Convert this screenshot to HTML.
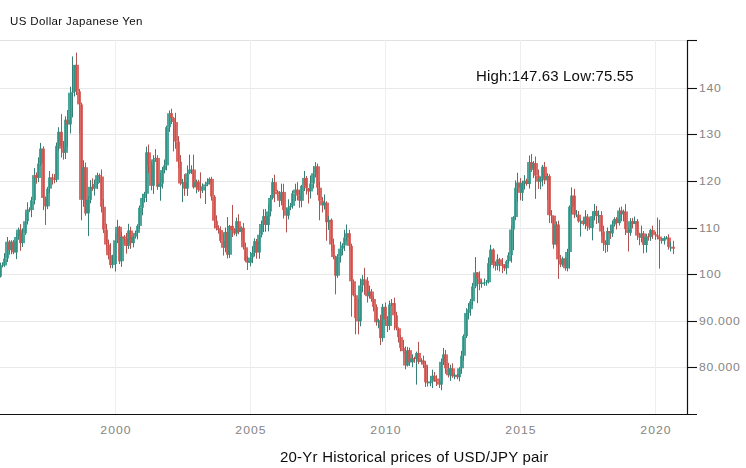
<!DOCTYPE html>
<html><head><meta charset="utf-8"><title>USD/JPY</title>
<style>
html,body{margin:0;padding:0;background:#fff;}
body{width:746px;height:468px;position:relative;overflow:hidden;font-family:"Liberation Sans",sans-serif;}
svg{position:absolute;left:0;top:0;}
.ttl{position:absolute;left:9.5px;top:14.0px;font-size:11.5px;color:#0d0d0d;line-height:14px;white-space:nowrap;letter-spacing:0.37px;will-change:transform;}
.hl{position:absolute;left:476.2px;top:66.6px;font-size:15px;color:#0d0d0d;line-height:18px;white-space:nowrap;letter-spacing:0.17px;will-change:transform;}
.cap{position:absolute;left:280.0px;top:447.4px;font-size:15px;color:#0d0d0d;line-height:20px;white-space:nowrap;letter-spacing:0.22px;will-change:transform;}
.yl{position:absolute;left:699.3px;font-size:10.6px;color:#858585;line-height:13px;white-space:nowrap;letter-spacing:0.6px;transform:scaleX(1.15);transform-origin:0 50%;}
.xl{position:absolute;top:424.0px;width:60px;text-align:center;font-size:10.6px;color:#858585;line-height:13px;letter-spacing:0.9px;transform:scaleX(1.15);transform-origin:50% 50%;}
</style></head><body>
<svg width="746" height="468" viewBox="0 0 746 468" shape-rendering="auto">
<line x1="0" x2="688" y1="88.5" y2="88.5" stroke="#e8e8e8" stroke-width="1"/>
<line x1="0" x2="688" y1="134.5" y2="134.5" stroke="#e8e8e8" stroke-width="1"/>
<line x1="0" x2="688" y1="181.5" y2="181.5" stroke="#e8e8e8" stroke-width="1"/>
<line x1="0" x2="688" y1="228.5" y2="228.5" stroke="#e8e8e8" stroke-width="1"/>
<line x1="0" x2="688" y1="274.5" y2="274.5" stroke="#e8e8e8" stroke-width="1"/>
<line x1="0" x2="688" y1="321.5" y2="321.5" stroke="#e8e8e8" stroke-width="1"/>
<line x1="0" x2="688" y1="367.5" y2="367.5" stroke="#e8e8e8" stroke-width="1"/>
<line x1="0" x2="688" y1="40.5" y2="40.5" stroke="#e2e2e2" stroke-width="1"/>
<line x1="115.5" x2="115.5" y1="40" y2="414" stroke="#eeeeee" stroke-width="1"/>
<line x1="250.5" x2="250.5" y1="40" y2="414" stroke="#eeeeee" stroke-width="1"/>
<line x1="385.5" x2="385.5" y1="40" y2="414" stroke="#eeeeee" stroke-width="1"/>
<line x1="520.5" x2="520.5" y1="40" y2="414" stroke="#eeeeee" stroke-width="1"/>
<line x1="655.5" x2="655.5" y1="40" y2="414" stroke="#eeeeee" stroke-width="1"/>
<line x1="0.5" x2="0.5" y1="262.66" y2="277.56" stroke="#357f75" stroke-width="1"/>
<rect x="-2.0" y="265.46" width="4" height="11.17" fill="#2f9789" fill-opacity="0.85"/>
<line x1="2.5" x2="2.5" y1="262.29" y2="267.54" stroke="#357f75" stroke-width="1"/>
<rect x="1.0" y="265.46" width="4" height="0.60" fill="#2f9789" fill-opacity="0.85"/>
<line x1="4.5" x2="4.5" y1="253.18" y2="267.07" stroke="#357f75" stroke-width="1"/>
<rect x="3.0" y="258.47" width="4" height="6.98" fill="#2f9789" fill-opacity="0.85"/>
<line x1="7.5" x2="7.5" y1="237.00" y2="262.07" stroke="#357f75" stroke-width="1"/>
<rect x="5.0" y="241.72" width="4" height="16.76" fill="#2f9789" fill-opacity="0.85"/>
<line x1="9.5" x2="9.5" y1="240.14" y2="254.63" stroke="#b0524f" stroke-width="1"/>
<rect x="7.0" y="241.72" width="4" height="8.38" fill="#d5514b" fill-opacity="0.85"/>
<line x1="11.5" x2="11.5" y1="240.27" y2="254.14" stroke="#357f75" stroke-width="1"/>
<rect x="10.0" y="241.72" width="4" height="8.38" fill="#2f9789" fill-opacity="0.85"/>
<line x1="13.5" x2="13.5" y1="240.06" y2="254.21" stroke="#b0524f" stroke-width="1"/>
<rect x="12.0" y="241.72" width="4" height="10.71" fill="#d5514b" fill-opacity="0.85"/>
<line x1="16.5" x2="16.5" y1="233.04" y2="259.12" stroke="#357f75" stroke-width="1"/>
<rect x="14.0" y="237.06" width="4" height="15.36" fill="#2f9789" fill-opacity="0.85"/>
<line x1="18.5" x2="18.5" y1="227.55" y2="239.79" stroke="#357f75" stroke-width="1"/>
<rect x="16.0" y="229.61" width="4" height="7.45" fill="#2f9789" fill-opacity="0.85"/>
<line x1="20.5" x2="20.5" y1="224.16" y2="250.72" stroke="#b0524f" stroke-width="1"/>
<rect x="19.0" y="229.61" width="4" height="13.50" fill="#d5514b" fill-opacity="0.85"/>
<line x1="22.5" x2="22.5" y1="228.26" y2="246.98" stroke="#357f75" stroke-width="1"/>
<rect x="21.0" y="233.34" width="4" height="9.78" fill="#2f9789" fill-opacity="0.85"/>
<line x1="25.5" x2="25.5" y1="213.31" y2="234.90" stroke="#357f75" stroke-width="1"/>
<rect x="23.0" y="221.23" width="4" height="12.10" fill="#2f9789" fill-opacity="0.85"/>
<line x1="27.5" x2="27.5" y1="202.31" y2="224.53" stroke="#357f75" stroke-width="1"/>
<rect x="25.0" y="209.60" width="4" height="11.64" fill="#2f9789" fill-opacity="0.85"/>
<line x1="29.5" x2="29.5" y1="207.31" y2="212.16" stroke="#b0524f" stroke-width="1"/>
<rect x="28.0" y="209.60" width="4" height="0.60" fill="#d5514b" fill-opacity="0.85"/>
<line x1="31.5" x2="31.5" y1="196.79" y2="217.17" stroke="#357f75" stroke-width="1"/>
<rect x="30.0" y="200.29" width="4" height="9.78" fill="#2f9789" fill-opacity="0.85"/>
<line x1="34.5" x2="34.5" y1="168.17" y2="204.47" stroke="#357f75" stroke-width="1"/>
<rect x="32.0" y="175.15" width="4" height="25.14" fill="#2f9789" fill-opacity="0.85"/>
<line x1="36.5" x2="36.5" y1="172.45" y2="183.63" stroke="#b0524f" stroke-width="1"/>
<rect x="34.0" y="175.15" width="4" height="2.79" fill="#d5514b" fill-opacity="0.85"/>
<line x1="38.5" x2="38.5" y1="157.27" y2="182.16" stroke="#357f75" stroke-width="1"/>
<rect x="37.0" y="163.51" width="4" height="14.43" fill="#2f9789" fill-opacity="0.85"/>
<line x1="40.5" x2="40.5" y1="142.92" y2="165.42" stroke="#357f75" stroke-width="1"/>
<rect x="39.0" y="148.62" width="4" height="14.90" fill="#2f9789" fill-opacity="0.85"/>
<line x1="43.5" x2="43.5" y1="146.29" y2="210.06" stroke="#b0524f" stroke-width="1"/>
<rect x="41.0" y="148.62" width="4" height="49.34" fill="#d5514b" fill-opacity="0.85"/>
<line x1="45.5" x2="45.5" y1="196.56" y2="224.96" stroke="#b0524f" stroke-width="1"/>
<rect x="43.0" y="197.96" width="4" height="8.38" fill="#d5514b" fill-opacity="0.85"/>
<line x1="47.5" x2="47.5" y1="186.89" y2="209.16" stroke="#357f75" stroke-width="1"/>
<rect x="46.0" y="188.65" width="4" height="17.69" fill="#2f9789" fill-opacity="0.85"/>
<line x1="49.5" x2="49.5" y1="171.08" y2="193.17" stroke="#357f75" stroke-width="1"/>
<rect x="48.0" y="177.48" width="4" height="11.17" fill="#2f9789" fill-opacity="0.85"/>
<line x1="52.5" x2="52.5" y1="173.79" y2="184.57" stroke="#b0524f" stroke-width="1"/>
<rect x="50.0" y="177.48" width="4" height="1.40" fill="#d5514b" fill-opacity="0.85"/>
<line x1="54.5" x2="54.5" y1="174.17" y2="183.37" stroke="#b0524f" stroke-width="1"/>
<rect x="52.0" y="178.87" width="4" height="0.93" fill="#d5514b" fill-opacity="0.85"/>
<line x1="56.5" x2="56.5" y1="142.56" y2="182.13" stroke="#357f75" stroke-width="1"/>
<rect x="55.0" y="145.82" width="4" height="33.98" fill="#2f9789" fill-opacity="0.85"/>
<line x1="58.5" x2="58.5" y1="127.20" y2="150.48" stroke="#357f75" stroke-width="1"/>
<rect x="57.0" y="131.86" width="4" height="13.97" fill="#2f9789" fill-opacity="0.85"/>
<line x1="61.5" x2="61.5" y1="114.17" y2="157.46" stroke="#b0524f" stroke-width="1"/>
<rect x="59.0" y="131.86" width="4" height="16.76" fill="#d5514b" fill-opacity="0.85"/>
<line x1="63.5" x2="63.5" y1="141.00" y2="159.68" stroke="#b0524f" stroke-width="1"/>
<rect x="61.0" y="148.62" width="4" height="4.19" fill="#d5514b" fill-opacity="0.85"/>
<line x1="65.5" x2="65.5" y1="116.27" y2="158.99" stroke="#357f75" stroke-width="1"/>
<rect x="64.0" y="119.75" width="4" height="33.05" fill="#2f9789" fill-opacity="0.85"/>
<line x1="67.5" x2="67.5" y1="109.98" y2="146.75" stroke="#b0524f" stroke-width="1"/>
<rect x="66.0" y="119.75" width="4" height="4.66" fill="#d5514b" fill-opacity="0.85"/>
<line x1="70.5" x2="70.5" y1="86.72" y2="133.44" stroke="#357f75" stroke-width="1"/>
<rect x="68.0" y="92.75" width="4" height="31.65" fill="#2f9789" fill-opacity="0.85"/>
<line x1="72.5" x2="72.5" y1="56.45" y2="117.43" stroke="#357f75" stroke-width="1"/>
<rect x="70.0" y="91.82" width="4" height="0.93" fill="#2f9789" fill-opacity="0.85"/>
<line x1="74.5" x2="74.5" y1="65.29" y2="96.48" stroke="#357f75" stroke-width="1"/>
<rect x="73.0" y="64.82" width="4" height="27.00" fill="#2f9789" fill-opacity="0.85"/>
<line x1="76.5" x2="76.5" y1="52.58" y2="95.08" stroke="#b0524f" stroke-width="1"/>
<rect x="75.0" y="64.82" width="4" height="26.53" fill="#d5514b" fill-opacity="0.85"/>
<line x1="79.5" x2="79.5" y1="89.03" y2="133.25" stroke="#b0524f" stroke-width="1"/>
<rect x="77.0" y="91.36" width="4" height="13.03" fill="#d5514b" fill-opacity="0.85"/>
<line x1="81.5" x2="81.5" y1="102.53" y2="220.30" stroke="#b0524f" stroke-width="1"/>
<rect x="79.0" y="104.39" width="4" height="95.43" fill="#d5514b" fill-opacity="0.85"/>
<line x1="83.5" x2="83.5" y1="160.25" y2="206.80" stroke="#357f75" stroke-width="1"/>
<rect x="82.0" y="167.24" width="4" height="32.58" fill="#2f9789" fill-opacity="0.85"/>
<line x1="85.5" x2="85.5" y1="162.58" y2="215.65" stroke="#b0524f" stroke-width="1"/>
<rect x="84.0" y="167.24" width="4" height="46.08" fill="#d5514b" fill-opacity="0.85"/>
<line x1="88.5" x2="88.5" y1="196.10" y2="236.13" stroke="#357f75" stroke-width="1"/>
<rect x="86.0" y="199.82" width="4" height="13.50" fill="#2f9789" fill-opacity="0.85"/>
<line x1="90.5" x2="90.5" y1="180.13" y2="203.25" stroke="#357f75" stroke-width="1"/>
<rect x="88.0" y="186.79" width="4" height="13.03" fill="#2f9789" fill-opacity="0.85"/>
<line x1="92.5" x2="92.5" y1="178.30" y2="190.84" stroke="#b0524f" stroke-width="1"/>
<rect x="91.0" y="186.79" width="4" height="1.86" fill="#d5514b" fill-opacity="0.85"/>
<line x1="94.5" x2="94.5" y1="179.59" y2="195.54" stroke="#357f75" stroke-width="1"/>
<rect x="93.0" y="183.99" width="4" height="4.66" fill="#2f9789" fill-opacity="0.85"/>
<line x1="97.5" x2="97.5" y1="172.66" y2="188.99" stroke="#357f75" stroke-width="1"/>
<rect x="95.0" y="175.15" width="4" height="8.84" fill="#2f9789" fill-opacity="0.85"/>
<line x1="99.5" x2="99.5" y1="173.50" y2="182.88" stroke="#b0524f" stroke-width="1"/>
<rect x="97.0" y="175.15" width="4" height="1.40" fill="#d5514b" fill-opacity="0.85"/>
<line x1="101.5" x2="101.5" y1="169.51" y2="212.41" stroke="#b0524f" stroke-width="1"/>
<rect x="100.0" y="176.55" width="4" height="30.26" fill="#d5514b" fill-opacity="0.85"/>
<line x1="103.5" x2="103.5" y1="199.36" y2="233.10" stroke="#b0524f" stroke-width="1"/>
<rect x="102.0" y="206.80" width="4" height="22.81" fill="#d5514b" fill-opacity="0.85"/>
<line x1="106.5" x2="106.5" y1="223.71" y2="249.74" stroke="#b0524f" stroke-width="1"/>
<rect x="104.0" y="229.61" width="4" height="14.90" fill="#d5514b" fill-opacity="0.85"/>
<line x1="108.5" x2="108.5" y1="239.53" y2="259.39" stroke="#b0524f" stroke-width="1"/>
<rect x="106.0" y="244.51" width="4" height="10.71" fill="#d5514b" fill-opacity="0.85"/>
<line x1="110.5" x2="110.5" y1="243.11" y2="268.25" stroke="#b0524f" stroke-width="1"/>
<rect x="109.0" y="255.21" width="4" height="9.78" fill="#d5514b" fill-opacity="0.85"/>
<line x1="112.5" x2="112.5" y1="254.75" y2="268.25" stroke="#357f75" stroke-width="1"/>
<rect x="111.0" y="264.06" width="4" height="0.93" fill="#2f9789" fill-opacity="0.85"/>
<line x1="115.5" x2="115.5" y1="233.58" y2="271.49" stroke="#357f75" stroke-width="1"/>
<rect x="113.0" y="240.32" width="4" height="23.74" fill="#2f9789" fill-opacity="0.85"/>
<line x1="117.5" x2="117.5" y1="219.84" y2="243.11" stroke="#357f75" stroke-width="1"/>
<rect x="115.0" y="226.82" width="4" height="13.50" fill="#2f9789" fill-opacity="0.85"/>
<line x1="119.5" x2="119.5" y1="225.89" y2="264.06" stroke="#b0524f" stroke-width="1"/>
<rect x="118.0" y="226.82" width="4" height="34.45" fill="#d5514b" fill-opacity="0.85"/>
<line x1="121.5" x2="121.5" y1="232.24" y2="266.89" stroke="#357f75" stroke-width="1"/>
<rect x="120.0" y="236.59" width="4" height="24.67" fill="#2f9789" fill-opacity="0.85"/>
<line x1="124.5" x2="124.5" y1="234.98" y2="244.32" stroke="#b0524f" stroke-width="1"/>
<rect x="122.0" y="236.59" width="4" height="1.86" fill="#d5514b" fill-opacity="0.85"/>
<line x1="126.5" x2="126.5" y1="232.97" y2="253.68" stroke="#b0524f" stroke-width="1"/>
<rect x="124.0" y="238.46" width="4" height="7.45" fill="#d5514b" fill-opacity="0.85"/>
<line x1="128.5" x2="128.5" y1="223.80" y2="249.04" stroke="#357f75" stroke-width="1"/>
<rect x="127.0" y="230.54" width="4" height="15.36" fill="#2f9789" fill-opacity="0.85"/>
<line x1="130.5" x2="130.5" y1="226.73" y2="248.83" stroke="#b0524f" stroke-width="1"/>
<rect x="129.0" y="230.54" width="4" height="12.57" fill="#d5514b" fill-opacity="0.85"/>
<line x1="133.5" x2="133.5" y1="235.24" y2="247.39" stroke="#357f75" stroke-width="1"/>
<rect x="131.0" y="236.59" width="4" height="6.52" fill="#2f9789" fill-opacity="0.85"/>
<line x1="135.5" x2="135.5" y1="230.53" y2="238.59" stroke="#357f75" stroke-width="1"/>
<rect x="133.0" y="232.87" width="4" height="3.72" fill="#2f9789" fill-opacity="0.85"/>
<line x1="137.5" x2="137.5" y1="224.25" y2="239.32" stroke="#357f75" stroke-width="1"/>
<rect x="136.0" y="225.89" width="4" height="6.98" fill="#2f9789" fill-opacity="0.85"/>
<line x1="139.5" x2="139.5" y1="205.55" y2="228.90" stroke="#357f75" stroke-width="1"/>
<rect x="138.0" y="207.73" width="4" height="18.15" fill="#2f9789" fill-opacity="0.85"/>
<line x1="142.5" x2="142.5" y1="193.86" y2="215.27" stroke="#357f75" stroke-width="1"/>
<rect x="140.0" y="197.96" width="4" height="9.78" fill="#2f9789" fill-opacity="0.85"/>
<line x1="144.5" x2="144.5" y1="191.88" y2="202.51" stroke="#357f75" stroke-width="1"/>
<rect x="142.0" y="193.77" width="4" height="4.19" fill="#2f9789" fill-opacity="0.85"/>
<line x1="146.5" x2="146.5" y1="146.67" y2="202.03" stroke="#357f75" stroke-width="1"/>
<rect x="145.0" y="152.34" width="4" height="41.43" fill="#2f9789" fill-opacity="0.85"/>
<line x1="148.5" x2="148.5" y1="144.58" y2="173.02" stroke="#b0524f" stroke-width="1"/>
<rect x="147.0" y="152.34" width="4" height="12.57" fill="#d5514b" fill-opacity="0.85"/>
<line x1="151.5" x2="151.5" y1="161.41" y2="190.39" stroke="#b0524f" stroke-width="1"/>
<rect x="149.0" y="164.91" width="4" height="20.95" fill="#d5514b" fill-opacity="0.85"/>
<line x1="153.5" x2="153.5" y1="155.18" y2="194.02" stroke="#357f75" stroke-width="1"/>
<rect x="151.0" y="159.32" width="4" height="26.53" fill="#2f9789" fill-opacity="0.85"/>
<line x1="155.5" x2="155.5" y1="149.17" y2="161.88" stroke="#357f75" stroke-width="1"/>
<rect x="154.0" y="157.93" width="4" height="1.40" fill="#2f9789" fill-opacity="0.85"/>
<line x1="157.5" x2="157.5" y1="155.18" y2="189.96" stroke="#b0524f" stroke-width="1"/>
<rect x="156.0" y="157.93" width="4" height="28.86" fill="#d5514b" fill-opacity="0.85"/>
<line x1="160.5" x2="160.5" y1="172.82" y2="200.75" stroke="#357f75" stroke-width="1"/>
<rect x="158.0" y="183.53" width="4" height="3.26" fill="#2f9789" fill-opacity="0.85"/>
<line x1="162.5" x2="162.5" y1="166.91" y2="188.54" stroke="#357f75" stroke-width="1"/>
<rect x="160.0" y="170.03" width="4" height="13.50" fill="#2f9789" fill-opacity="0.85"/>
<line x1="164.5" x2="164.5" y1="159.53" y2="173.40" stroke="#357f75" stroke-width="1"/>
<rect x="163.0" y="165.37" width="4" height="4.65" fill="#2f9789" fill-opacity="0.85"/>
<line x1="166.5" x2="166.5" y1="125.70" y2="170.23" stroke="#357f75" stroke-width="1"/>
<rect x="165.0" y="127.20" width="4" height="38.17" fill="#2f9789" fill-opacity="0.85"/>
<line x1="169.5" x2="169.5" y1="110.44" y2="131.86" stroke="#357f75" stroke-width="1"/>
<rect x="167.0" y="113.24" width="4" height="13.97" fill="#2f9789" fill-opacity="0.85"/>
<line x1="171.5" x2="171.5" y1="108.68" y2="124.08" stroke="#b0524f" stroke-width="1"/>
<rect x="169.0" y="113.24" width="4" height="4.66" fill="#d5514b" fill-opacity="0.85"/>
<line x1="173.5" x2="173.5" y1="116.96" y2="151.41" stroke="#b0524f" stroke-width="1"/>
<rect x="172.0" y="117.89" width="4" height="4.19" fill="#d5514b" fill-opacity="0.85"/>
<line x1="175.5" x2="175.5" y1="112.83" y2="148.75" stroke="#b0524f" stroke-width="1"/>
<rect x="174.0" y="122.08" width="4" height="19.55" fill="#d5514b" fill-opacity="0.85"/>
<line x1="178.5" x2="178.5" y1="136.13" y2="167.96" stroke="#b0524f" stroke-width="1"/>
<rect x="176.0" y="141.63" width="4" height="20.02" fill="#d5514b" fill-opacity="0.85"/>
<line x1="180.5" x2="180.5" y1="155.10" y2="185.33" stroke="#b0524f" stroke-width="1"/>
<rect x="178.0" y="161.65" width="4" height="21.88" fill="#d5514b" fill-opacity="0.85"/>
<line x1="182.5" x2="182.5" y1="178.87" y2="202.15" stroke="#357f75" stroke-width="1"/>
<rect x="181.0" y="182.13" width="4" height="1.40" fill="#2f9789" fill-opacity="0.85"/>
<line x1="184.5" x2="184.5" y1="174.17" y2="195.73" stroke="#b0524f" stroke-width="1"/>
<rect x="183.0" y="182.13" width="4" height="6.52" fill="#d5514b" fill-opacity="0.85"/>
<line x1="187.5" x2="187.5" y1="165.39" y2="195.97" stroke="#357f75" stroke-width="1"/>
<rect x="185.0" y="173.29" width="4" height="15.36" fill="#2f9789" fill-opacity="0.85"/>
<line x1="189.5" x2="189.5" y1="154.67" y2="174.22" stroke="#357f75" stroke-width="1"/>
<rect x="187.0" y="169.56" width="4" height="3.72" fill="#2f9789" fill-opacity="0.85"/>
<line x1="191.5" x2="191.5" y1="165.24" y2="173.93" stroke="#357f75" stroke-width="1"/>
<rect x="190.0" y="169.56" width="4" height="0.60" fill="#2f9789" fill-opacity="0.85"/>
<line x1="193.5" x2="193.5" y1="154.67" y2="188.65" stroke="#b0524f" stroke-width="1"/>
<rect x="192.0" y="169.56" width="4" height="17.69" fill="#d5514b" fill-opacity="0.85"/>
<line x1="196.5" x2="196.5" y1="179.56" y2="193.26" stroke="#357f75" stroke-width="1"/>
<rect x="194.0" y="181.67" width="4" height="5.59" fill="#2f9789" fill-opacity="0.85"/>
<line x1="198.5" x2="198.5" y1="179.87" y2="191.88" stroke="#b0524f" stroke-width="1"/>
<rect x="196.0" y="181.67" width="4" height="8.38" fill="#d5514b" fill-opacity="0.85"/>
<line x1="200.5" x2="200.5" y1="172.36" y2="198.42" stroke="#b0524f" stroke-width="1"/>
<rect x="199.0" y="190.04" width="4" height="0.60" fill="#d5514b" fill-opacity="0.85"/>
<line x1="202.5" x2="202.5" y1="183.47" y2="193.02" stroke="#357f75" stroke-width="1"/>
<rect x="201.0" y="186.32" width="4" height="4.19" fill="#2f9789" fill-opacity="0.85"/>
<line x1="205.5" x2="205.5" y1="181.67" y2="204.01" stroke="#357f75" stroke-width="1"/>
<rect x="203.0" y="184.46" width="4" height="1.86" fill="#2f9789" fill-opacity="0.85"/>
<line x1="207.5" x2="207.5" y1="178.29" y2="186.18" stroke="#357f75" stroke-width="1"/>
<rect x="205.0" y="182.13" width="4" height="2.33" fill="#2f9789" fill-opacity="0.85"/>
<line x1="209.5" x2="209.5" y1="177.52" y2="184.60" stroke="#357f75" stroke-width="1"/>
<rect x="208.0" y="178.87" width="4" height="3.26" fill="#2f9789" fill-opacity="0.85"/>
<line x1="211.5" x2="211.5" y1="176.78" y2="200.60" stroke="#b0524f" stroke-width="1"/>
<rect x="210.0" y="178.87" width="4" height="17.69" fill="#d5514b" fill-opacity="0.85"/>
<line x1="214.5" x2="214.5" y1="195.07" y2="228.34" stroke="#b0524f" stroke-width="1"/>
<rect x="212.0" y="196.56" width="4" height="24.21" fill="#d5514b" fill-opacity="0.85"/>
<line x1="216.5" x2="216.5" y1="215.31" y2="230.48" stroke="#b0524f" stroke-width="1"/>
<rect x="214.0" y="220.77" width="4" height="7.45" fill="#d5514b" fill-opacity="0.85"/>
<line x1="218.5" x2="218.5" y1="225.28" y2="233.65" stroke="#b0524f" stroke-width="1"/>
<rect x="217.0" y="228.22" width="4" height="1.86" fill="#d5514b" fill-opacity="0.85"/>
<line x1="220.5" x2="220.5" y1="226.40" y2="242.83" stroke="#b0524f" stroke-width="1"/>
<rect x="219.0" y="230.08" width="4" height="10.71" fill="#d5514b" fill-opacity="0.85"/>
<line x1="223.5" x2="223.5" y1="233.99" y2="255.51" stroke="#b0524f" stroke-width="1"/>
<rect x="221.0" y="240.78" width="4" height="6.98" fill="#d5514b" fill-opacity="0.85"/>
<line x1="225.5" x2="225.5" y1="227.60" y2="252.23" stroke="#357f75" stroke-width="1"/>
<rect x="223.0" y="231.94" width="4" height="15.83" fill="#2f9789" fill-opacity="0.85"/>
<line x1="227.5" x2="227.5" y1="217.04" y2="258.47" stroke="#b0524f" stroke-width="1"/>
<rect x="226.0" y="231.94" width="4" height="22.81" fill="#d5514b" fill-opacity="0.85"/>
<line x1="229.5" x2="229.5" y1="224.96" y2="258.01" stroke="#357f75" stroke-width="1"/>
<rect x="228.0" y="225.89" width="4" height="28.86" fill="#2f9789" fill-opacity="0.85"/>
<line x1="232.5" x2="232.5" y1="204.94" y2="237.06" stroke="#b0524f" stroke-width="1"/>
<rect x="230.0" y="225.89" width="4" height="4.19" fill="#d5514b" fill-opacity="0.85"/>
<line x1="234.5" x2="234.5" y1="228.28" y2="235.25" stroke="#b0524f" stroke-width="1"/>
<rect x="232.0" y="230.08" width="4" height="3.26" fill="#d5514b" fill-opacity="0.85"/>
<line x1="236.5" x2="236.5" y1="217.64" y2="236.39" stroke="#357f75" stroke-width="1"/>
<rect x="235.0" y="221.23" width="4" height="12.10" fill="#2f9789" fill-opacity="0.85"/>
<line x1="238.5" x2="238.5" y1="214.31" y2="234.29" stroke="#b0524f" stroke-width="1"/>
<rect x="237.0" y="221.23" width="4" height="10.71" fill="#d5514b" fill-opacity="0.85"/>
<line x1="241.5" x2="241.5" y1="226.36" y2="239.60" stroke="#357f75" stroke-width="1"/>
<rect x="239.0" y="227.75" width="4" height="4.19" fill="#2f9789" fill-opacity="0.85"/>
<line x1="243.5" x2="243.5" y1="222.95" y2="249.52" stroke="#b0524f" stroke-width="1"/>
<rect x="241.0" y="227.75" width="4" height="19.55" fill="#d5514b" fill-opacity="0.85"/>
<line x1="245.5" x2="245.5" y1="242.59" y2="262.16" stroke="#b0524f" stroke-width="1"/>
<rect x="244.0" y="247.30" width="4" height="13.50" fill="#d5514b" fill-opacity="0.85"/>
<line x1="247.5" x2="247.5" y1="256.31" y2="270.00" stroke="#b0524f" stroke-width="1"/>
<rect x="246.0" y="260.80" width="4" height="1.86" fill="#d5514b" fill-opacity="0.85"/>
<line x1="250.5" x2="250.5" y1="251.96" y2="266.39" stroke="#357f75" stroke-width="1"/>
<rect x="248.0" y="257.54" width="4" height="5.12" fill="#2f9789" fill-opacity="0.85"/>
<line x1="252.5" x2="252.5" y1="246.17" y2="263.19" stroke="#357f75" stroke-width="1"/>
<rect x="250.0" y="252.89" width="4" height="4.66" fill="#2f9789" fill-opacity="0.85"/>
<line x1="254.5" x2="254.5" y1="238.33" y2="256.50" stroke="#357f75" stroke-width="1"/>
<rect x="253.0" y="241.25" width="4" height="11.64" fill="#2f9789" fill-opacity="0.85"/>
<line x1="256.5" x2="256.5" y1="238.95" y2="258.70" stroke="#b0524f" stroke-width="1"/>
<rect x="255.0" y="241.25" width="4" height="11.17" fill="#d5514b" fill-opacity="0.85"/>
<line x1="259.5" x2="259.5" y1="229.97" y2="258.83" stroke="#357f75" stroke-width="1"/>
<rect x="257.0" y="234.73" width="4" height="17.69" fill="#2f9789" fill-opacity="0.85"/>
<line x1="261.5" x2="261.5" y1="220.54" y2="237.49" stroke="#357f75" stroke-width="1"/>
<rect x="259.0" y="224.03" width="4" height="10.71" fill="#2f9789" fill-opacity="0.85"/>
<line x1="263.5" x2="263.5" y1="209.25" y2="232.09" stroke="#357f75" stroke-width="1"/>
<rect x="262.0" y="216.11" width="4" height="7.91" fill="#2f9789" fill-opacity="0.85"/>
<line x1="265.5" x2="265.5" y1="208.96" y2="231.79" stroke="#b0524f" stroke-width="1"/>
<rect x="264.0" y="216.11" width="4" height="8.84" fill="#d5514b" fill-opacity="0.85"/>
<line x1="268.5" x2="268.5" y1="204.48" y2="231.38" stroke="#357f75" stroke-width="1"/>
<rect x="266.0" y="211.46" width="4" height="13.50" fill="#2f9789" fill-opacity="0.85"/>
<line x1="270.5" x2="270.5" y1="195.04" y2="216.46" stroke="#357f75" stroke-width="1"/>
<rect x="268.0" y="197.96" width="4" height="13.50" fill="#2f9789" fill-opacity="0.85"/>
<line x1="272.5" x2="272.5" y1="178.18" y2="199.51" stroke="#357f75" stroke-width="1"/>
<rect x="271.0" y="182.13" width="4" height="15.83" fill="#2f9789" fill-opacity="0.85"/>
<line x1="274.5" x2="274.5" y1="174.68" y2="202.15" stroke="#b0524f" stroke-width="1"/>
<rect x="273.0" y="182.13" width="4" height="9.31" fill="#d5514b" fill-opacity="0.85"/>
<line x1="277.5" x2="277.5" y1="189.92" y2="197.57" stroke="#b0524f" stroke-width="1"/>
<rect x="275.0" y="191.44" width="4" height="2.79" fill="#d5514b" fill-opacity="0.85"/>
<line x1="279.5" x2="279.5" y1="191.06" y2="207.05" stroke="#b0524f" stroke-width="1"/>
<rect x="277.0" y="194.23" width="4" height="6.52" fill="#d5514b" fill-opacity="0.85"/>
<line x1="281.5" x2="281.5" y1="183.67" y2="205.30" stroke="#357f75" stroke-width="1"/>
<rect x="280.0" y="191.91" width="4" height="8.84" fill="#2f9789" fill-opacity="0.85"/>
<line x1="283.5" x2="283.5" y1="183.81" y2="218.52" stroke="#b0524f" stroke-width="1"/>
<rect x="282.0" y="191.91" width="4" height="18.15" fill="#d5514b" fill-opacity="0.85"/>
<line x1="286.5" x2="286.5" y1="208.20" y2="232.41" stroke="#b0524f" stroke-width="1"/>
<rect x="284.0" y="210.06" width="4" height="5.59" fill="#d5514b" fill-opacity="0.85"/>
<line x1="288.5" x2="288.5" y1="199.28" y2="219.49" stroke="#357f75" stroke-width="1"/>
<rect x="286.0" y="207.27" width="4" height="8.38" fill="#2f9789" fill-opacity="0.85"/>
<line x1="290.5" x2="290.5" y1="203.04" y2="210.15" stroke="#357f75" stroke-width="1"/>
<rect x="289.0" y="205.87" width="4" height="1.40" fill="#2f9789" fill-opacity="0.85"/>
<line x1="292.5" x2="292.5" y1="190.57" y2="208.66" stroke="#357f75" stroke-width="1"/>
<rect x="291.0" y="193.30" width="4" height="12.57" fill="#2f9789" fill-opacity="0.85"/>
<line x1="295.5" x2="295.5" y1="183.73" y2="201.16" stroke="#357f75" stroke-width="1"/>
<rect x="293.0" y="189.58" width="4" height="3.72" fill="#2f9789" fill-opacity="0.85"/>
<line x1="297.5" x2="297.5" y1="182.15" y2="200.43" stroke="#b0524f" stroke-width="1"/>
<rect x="295.0" y="189.58" width="4" height="6.05" fill="#d5514b" fill-opacity="0.85"/>
<line x1="299.5" x2="299.5" y1="189.63" y2="207.80" stroke="#b0524f" stroke-width="1"/>
<rect x="298.0" y="195.63" width="4" height="5.12" fill="#d5514b" fill-opacity="0.85"/>
<line x1="301.5" x2="301.5" y1="184.92" y2="207.27" stroke="#357f75" stroke-width="1"/>
<rect x="300.0" y="185.86" width="4" height="14.90" fill="#2f9789" fill-opacity="0.85"/>
<line x1="304.5" x2="304.5" y1="170.96" y2="190.98" stroke="#357f75" stroke-width="1"/>
<rect x="302.0" y="177.94" width="4" height="7.91" fill="#2f9789" fill-opacity="0.85"/>
<line x1="306.5" x2="306.5" y1="175.96" y2="194.43" stroke="#b0524f" stroke-width="1"/>
<rect x="304.0" y="177.94" width="4" height="10.24" fill="#d5514b" fill-opacity="0.85"/>
<line x1="308.5" x2="308.5" y1="188.18" y2="203.54" stroke="#b0524f" stroke-width="1"/>
<rect x="307.0" y="188.18" width="4" height="3.26" fill="#d5514b" fill-opacity="0.85"/>
<line x1="310.5" x2="310.5" y1="175.51" y2="198.52" stroke="#357f75" stroke-width="1"/>
<rect x="309.0" y="183.53" width="4" height="7.91" fill="#2f9789" fill-opacity="0.85"/>
<line x1="313.5" x2="313.5" y1="166.32" y2="188.46" stroke="#357f75" stroke-width="1"/>
<rect x="311.0" y="173.29" width="4" height="10.24" fill="#2f9789" fill-opacity="0.85"/>
<line x1="315.5" x2="315.5" y1="162.11" y2="177.48" stroke="#357f75" stroke-width="1"/>
<rect x="313.0" y="166.30" width="4" height="6.98" fill="#2f9789" fill-opacity="0.85"/>
<line x1="317.5" x2="317.5" y1="163.58" y2="195.07" stroke="#b0524f" stroke-width="1"/>
<rect x="316.0" y="166.30" width="4" height="21.41" fill="#d5514b" fill-opacity="0.85"/>
<line x1="319.5" x2="319.5" y1="182.13" y2="220.30" stroke="#b0524f" stroke-width="1"/>
<rect x="318.0" y="187.72" width="4" height="13.03" fill="#d5514b" fill-opacity="0.85"/>
<line x1="322.5" x2="322.5" y1="197.09" y2="212.40" stroke="#b0524f" stroke-width="1"/>
<rect x="320.0" y="200.75" width="4" height="4.65" fill="#d5514b" fill-opacity="0.85"/>
<line x1="324.5" x2="324.5" y1="194.43" y2="209.50" stroke="#357f75" stroke-width="1"/>
<rect x="322.0" y="202.61" width="4" height="2.79" fill="#2f9789" fill-opacity="0.85"/>
<line x1="326.5" x2="326.5" y1="201.22" y2="240.78" stroke="#b0524f" stroke-width="1"/>
<rect x="325.0" y="202.61" width="4" height="19.55" fill="#d5514b" fill-opacity="0.85"/>
<line x1="328.5" x2="328.5" y1="215.83" y2="229.91" stroke="#357f75" stroke-width="1"/>
<rect x="327.0" y="219.84" width="4" height="2.33" fill="#2f9789" fill-opacity="0.85"/>
<line x1="331.5" x2="331.5" y1="218.44" y2="251.49" stroke="#b0524f" stroke-width="1"/>
<rect x="329.0" y="219.84" width="4" height="24.67" fill="#d5514b" fill-opacity="0.85"/>
<line x1="333.5" x2="333.5" y1="238.58" y2="259.38" stroke="#b0524f" stroke-width="1"/>
<rect x="331.0" y="244.51" width="4" height="12.57" fill="#d5514b" fill-opacity="0.85"/>
<line x1="335.5" x2="335.5" y1="255.68" y2="294.32" stroke="#b0524f" stroke-width="1"/>
<rect x="334.0" y="257.08" width="4" height="18.62" fill="#d5514b" fill-opacity="0.85"/>
<line x1="337.5" x2="337.5" y1="254.17" y2="277.82" stroke="#357f75" stroke-width="1"/>
<rect x="336.0" y="256.15" width="4" height="19.55" fill="#2f9789" fill-opacity="0.85"/>
<line x1="340.5" x2="340.5" y1="241.65" y2="262.55" stroke="#357f75" stroke-width="1"/>
<rect x="338.0" y="248.70" width="4" height="7.45" fill="#2f9789" fill-opacity="0.85"/>
<line x1="342.5" x2="342.5" y1="243.30" y2="255.28" stroke="#357f75" stroke-width="1"/>
<rect x="340.0" y="245.44" width="4" height="3.26" fill="#2f9789" fill-opacity="0.85"/>
<line x1="344.5" x2="344.5" y1="229.82" y2="251.00" stroke="#357f75" stroke-width="1"/>
<rect x="343.0" y="237.53" width="4" height="7.91" fill="#2f9789" fill-opacity="0.85"/>
<line x1="346.5" x2="346.5" y1="224.49" y2="240.78" stroke="#357f75" stroke-width="1"/>
<rect x="345.0" y="233.34" width="4" height="4.19" fill="#2f9789" fill-opacity="0.85"/>
<line x1="349.5" x2="349.5" y1="229.78" y2="250.79" stroke="#b0524f" stroke-width="1"/>
<rect x="347.0" y="233.34" width="4" height="12.57" fill="#d5514b" fill-opacity="0.85"/>
<line x1="351.5" x2="351.5" y1="243.58" y2="316.66" stroke="#b0524f" stroke-width="1"/>
<rect x="349.0" y="245.90" width="4" height="35.38" fill="#d5514b" fill-opacity="0.85"/>
<line x1="353.5" x2="353.5" y1="279.39" y2="296.43" stroke="#b0524f" stroke-width="1"/>
<rect x="352.0" y="281.28" width="4" height="13.96" fill="#d5514b" fill-opacity="0.85"/>
<line x1="355.5" x2="355.5" y1="294.32" y2="334.35" stroke="#b0524f" stroke-width="1"/>
<rect x="354.0" y="295.25" width="4" height="22.81" fill="#d5514b" fill-opacity="0.85"/>
<line x1="358.5" x2="358.5" y1="298.97" y2="334.35" stroke="#b0524f" stroke-width="1"/>
<rect x="356.0" y="318.06" width="4" height="3.26" fill="#d5514b" fill-opacity="0.85"/>
<line x1="360.5" x2="360.5" y1="278.56" y2="326.30" stroke="#357f75" stroke-width="1"/>
<rect x="358.0" y="285.47" width="4" height="35.84" fill="#2f9789" fill-opacity="0.85"/>
<line x1="362.5" x2="362.5" y1="275.12" y2="292.25" stroke="#357f75" stroke-width="1"/>
<rect x="361.0" y="279.42" width="4" height="6.05" fill="#2f9789" fill-opacity="0.85"/>
<line x1="364.5" x2="364.5" y1="267.78" y2="294.78" stroke="#b0524f" stroke-width="1"/>
<rect x="363.0" y="279.42" width="4" height="1.40" fill="#d5514b" fill-opacity="0.85"/>
<line x1="367.5" x2="367.5" y1="277.09" y2="302.56" stroke="#b0524f" stroke-width="1"/>
<rect x="365.0" y="280.82" width="4" height="15.36" fill="#d5514b" fill-opacity="0.85"/>
<line x1="369.5" x2="369.5" y1="285.56" y2="298.50" stroke="#357f75" stroke-width="1"/>
<rect x="367.0" y="291.52" width="4" height="4.65" fill="#2f9789" fill-opacity="0.85"/>
<line x1="371.5" x2="371.5" y1="288.96" y2="301.78" stroke="#b0524f" stroke-width="1"/>
<rect x="370.0" y="291.52" width="4" height="7.45" fill="#d5514b" fill-opacity="0.85"/>
<line x1="373.5" x2="373.5" y1="296.51" y2="311.36" stroke="#b0524f" stroke-width="1"/>
<rect x="372.0" y="298.97" width="4" height="7.91" fill="#d5514b" fill-opacity="0.85"/>
<line x1="376.5" x2="376.5" y1="304.36" y2="325.68" stroke="#b0524f" stroke-width="1"/>
<rect x="374.0" y="306.88" width="4" height="15.36" fill="#d5514b" fill-opacity="0.85"/>
<line x1="378.5" x2="378.5" y1="318.65" y2="328.29" stroke="#357f75" stroke-width="1"/>
<rect x="376.0" y="320.38" width="4" height="1.86" fill="#2f9789" fill-opacity="0.85"/>
<line x1="380.5" x2="380.5" y1="314.80" y2="345.06" stroke="#b0524f" stroke-width="1"/>
<rect x="379.0" y="320.38" width="4" height="17.69" fill="#d5514b" fill-opacity="0.85"/>
<line x1="382.5" x2="382.5" y1="303.82" y2="341.73" stroke="#357f75" stroke-width="1"/>
<rect x="381.0" y="306.88" width="4" height="31.19" fill="#2f9789" fill-opacity="0.85"/>
<line x1="385.5" x2="385.5" y1="302.51" y2="325.66" stroke="#b0524f" stroke-width="1"/>
<rect x="383.0" y="306.88" width="4" height="12.57" fill="#d5514b" fill-opacity="0.85"/>
<line x1="387.5" x2="387.5" y1="316.11" y2="332.07" stroke="#b0524f" stroke-width="1"/>
<rect x="385.0" y="319.45" width="4" height="6.52" fill="#d5514b" fill-opacity="0.85"/>
<line x1="389.5" x2="389.5" y1="300.63" y2="330.07" stroke="#357f75" stroke-width="1"/>
<rect x="388.0" y="304.56" width="4" height="21.41" fill="#2f9789" fill-opacity="0.85"/>
<line x1="391.5" x2="391.5" y1="299.10" y2="305.71" stroke="#357f75" stroke-width="1"/>
<rect x="390.0" y="303.16" width="4" height="1.40" fill="#2f9789" fill-opacity="0.85"/>
<line x1="394.5" x2="394.5" y1="297.67" y2="330.16" stroke="#b0524f" stroke-width="1"/>
<rect x="392.0" y="303.16" width="4" height="12.10" fill="#d5514b" fill-opacity="0.85"/>
<line x1="396.5" x2="396.5" y1="311.78" y2="330.34" stroke="#b0524f" stroke-width="1"/>
<rect x="394.0" y="315.26" width="4" height="13.03" fill="#d5514b" fill-opacity="0.85"/>
<line x1="398.5" x2="398.5" y1="327.29" y2="342.47" stroke="#b0524f" stroke-width="1"/>
<rect x="397.0" y="328.30" width="4" height="8.84" fill="#d5514b" fill-opacity="0.85"/>
<line x1="400.5" x2="400.5" y1="335.26" y2="351.33" stroke="#b0524f" stroke-width="1"/>
<rect x="399.0" y="337.14" width="4" height="10.71" fill="#d5514b" fill-opacity="0.85"/>
<line x1="403.5" x2="403.5" y1="339.94" y2="353.90" stroke="#b0524f" stroke-width="1"/>
<rect x="401.0" y="347.85" width="4" height="3.26" fill="#d5514b" fill-opacity="0.85"/>
<line x1="405.5" x2="405.5" y1="346.45" y2="369.33" stroke="#b0524f" stroke-width="1"/>
<rect x="403.0" y="351.11" width="4" height="14.43" fill="#d5514b" fill-opacity="0.85"/>
<line x1="407.5" x2="407.5" y1="346.92" y2="366.47" stroke="#357f75" stroke-width="1"/>
<rect x="406.0" y="350.18" width="4" height="15.36" fill="#2f9789" fill-opacity="0.85"/>
<line x1="409.5" x2="409.5" y1="347.56" y2="365.88" stroke="#b0524f" stroke-width="1"/>
<rect x="408.0" y="350.18" width="4" height="12.10" fill="#d5514b" fill-opacity="0.85"/>
<line x1="412.5" x2="412.5" y1="354.38" y2="367.15" stroke="#357f75" stroke-width="1"/>
<rect x="410.0" y="358.09" width="4" height="4.19" fill="#2f9789" fill-opacity="0.85"/>
<line x1="414.5" x2="414.5" y1="356.64" y2="362.76" stroke="#b0524f" stroke-width="1"/>
<rect x="412.0" y="358.09" width="4" height="0.93" fill="#d5514b" fill-opacity="0.85"/>
<line x1="416.5" x2="416.5" y1="351.57" y2="384.62" stroke="#357f75" stroke-width="1"/>
<rect x="415.0" y="352.97" width="4" height="6.05" fill="#2f9789" fill-opacity="0.85"/>
<line x1="418.5" x2="418.5" y1="341.80" y2="364.14" stroke="#b0524f" stroke-width="1"/>
<rect x="417.0" y="352.97" width="4" height="8.84" fill="#d5514b" fill-opacity="0.85"/>
<line x1="421.5" x2="421.5" y1="358.26" y2="364.11" stroke="#357f75" stroke-width="1"/>
<rect x="419.0" y="360.42" width="4" height="1.40" fill="#2f9789" fill-opacity="0.85"/>
<line x1="423.5" x2="423.5" y1="355.64" y2="368.06" stroke="#b0524f" stroke-width="1"/>
<rect x="421.0" y="360.42" width="4" height="4.19" fill="#d5514b" fill-opacity="0.85"/>
<line x1="425.5" x2="425.5" y1="360.92" y2="386.96" stroke="#b0524f" stroke-width="1"/>
<rect x="424.0" y="364.61" width="4" height="17.69" fill="#d5514b" fill-opacity="0.85"/>
<line x1="427.5" x2="427.5" y1="366.47" y2="386.49" stroke="#b0524f" stroke-width="1"/>
<rect x="426.0" y="382.30" width="4" height="0.93" fill="#d5514b" fill-opacity="0.85"/>
<line x1="430.5" x2="430.5" y1="376.19" y2="386.18" stroke="#357f75" stroke-width="1"/>
<rect x="428.0" y="381.37" width="4" height="1.86" fill="#2f9789" fill-opacity="0.85"/>
<line x1="432.5" x2="432.5" y1="369.73" y2="388.11" stroke="#357f75" stroke-width="1"/>
<rect x="430.0" y="375.78" width="4" height="5.59" fill="#2f9789" fill-opacity="0.85"/>
<line x1="434.5" x2="434.5" y1="371.96" y2="381.87" stroke="#b0524f" stroke-width="1"/>
<rect x="433.0" y="375.78" width="4" height="2.79" fill="#d5514b" fill-opacity="0.85"/>
<line x1="436.5" x2="436.5" y1="375.26" y2="386.00" stroke="#b0524f" stroke-width="1"/>
<rect x="435.0" y="378.57" width="4" height="3.26" fill="#d5514b" fill-opacity="0.85"/>
<line x1="439.5" x2="439.5" y1="378.83" y2="388.00" stroke="#b0524f" stroke-width="1"/>
<rect x="437.0" y="381.83" width="4" height="2.79" fill="#d5514b" fill-opacity="0.85"/>
<line x1="441.5" x2="441.5" y1="358.52" y2="390.23" stroke="#357f75" stroke-width="1"/>
<rect x="439.0" y="361.81" width="4" height="22.81" fill="#2f9789" fill-opacity="0.85"/>
<line x1="443.5" x2="443.5" y1="347.85" y2="365.07" stroke="#357f75" stroke-width="1"/>
<rect x="442.0" y="354.37" width="4" height="7.45" fill="#2f9789" fill-opacity="0.85"/>
<line x1="445.5" x2="445.5" y1="349.88" y2="373.72" stroke="#b0524f" stroke-width="1"/>
<rect x="444.0" y="354.37" width="4" height="13.97" fill="#d5514b" fill-opacity="0.85"/>
<line x1="448.5" x2="448.5" y1="362.82" y2="377.48" stroke="#b0524f" stroke-width="1"/>
<rect x="446.0" y="368.33" width="4" height="6.98" fill="#d5514b" fill-opacity="0.85"/>
<line x1="450.5" x2="450.5" y1="364.70" y2="380.83" stroke="#357f75" stroke-width="1"/>
<rect x="448.0" y="368.33" width="4" height="6.98" fill="#2f9789" fill-opacity="0.85"/>
<line x1="452.5" x2="452.5" y1="363.32" y2="377.81" stroke="#b0524f" stroke-width="1"/>
<rect x="451.0" y="368.33" width="4" height="7.91" fill="#d5514b" fill-opacity="0.85"/>
<line x1="454.5" x2="454.5" y1="373.39" y2="379.25" stroke="#357f75" stroke-width="1"/>
<rect x="453.0" y="374.85" width="4" height="1.40" fill="#2f9789" fill-opacity="0.85"/>
<line x1="457.5" x2="457.5" y1="373.62" y2="379.21" stroke="#b0524f" stroke-width="1"/>
<rect x="455.0" y="374.85" width="4" height="2.33" fill="#d5514b" fill-opacity="0.85"/>
<line x1="459.5" x2="459.5" y1="367.08" y2="381.35" stroke="#357f75" stroke-width="1"/>
<rect x="457.0" y="368.33" width="4" height="8.84" fill="#2f9789" fill-opacity="0.85"/>
<line x1="461.5" x2="461.5" y1="350.87" y2="373.80" stroke="#357f75" stroke-width="1"/>
<rect x="460.0" y="355.76" width="4" height="12.57" fill="#2f9789" fill-opacity="0.85"/>
<line x1="463.5" x2="463.5" y1="334.42" y2="360.55" stroke="#357f75" stroke-width="1"/>
<rect x="462.0" y="336.21" width="4" height="19.55" fill="#2f9789" fill-opacity="0.85"/>
<line x1="466.5" x2="466.5" y1="308.19" y2="338.04" stroke="#357f75" stroke-width="1"/>
<rect x="464.0" y="312.94" width="4" height="23.27" fill="#2f9789" fill-opacity="0.85"/>
<line x1="468.5" x2="468.5" y1="303.16" y2="319.47" stroke="#357f75" stroke-width="1"/>
<rect x="466.0" y="309.21" width="4" height="3.72" fill="#2f9789" fill-opacity="0.85"/>
<line x1="470.5" x2="470.5" y1="298.98" y2="315.78" stroke="#357f75" stroke-width="1"/>
<rect x="469.0" y="301.30" width="4" height="7.91" fill="#2f9789" fill-opacity="0.85"/>
<line x1="472.5" x2="472.5" y1="282.93" y2="305.30" stroke="#357f75" stroke-width="1"/>
<rect x="471.0" y="286.40" width="4" height="14.90" fill="#2f9789" fill-opacity="0.85"/>
<line x1="475.5" x2="475.5" y1="257.08" y2="288.26" stroke="#357f75" stroke-width="1"/>
<rect x="473.0" y="272.44" width="4" height="13.97" fill="#2f9789" fill-opacity="0.85"/>
<line x1="477.5" x2="477.5" y1="271.97" y2="303.16" stroke="#b0524f" stroke-width="1"/>
<rect x="475.0" y="272.44" width="4" height="6.05" fill="#d5514b" fill-opacity="0.85"/>
<line x1="479.5" x2="479.5" y1="271.35" y2="290.25" stroke="#b0524f" stroke-width="1"/>
<rect x="478.0" y="278.49" width="4" height="5.59" fill="#d5514b" fill-opacity="0.85"/>
<line x1="481.5" x2="481.5" y1="280.61" y2="287.78" stroke="#357f75" stroke-width="1"/>
<rect x="480.0" y="282.68" width="4" height="1.40" fill="#2f9789" fill-opacity="0.85"/>
<line x1="484.5" x2="484.5" y1="278.47" y2="285.82" stroke="#357f75" stroke-width="1"/>
<rect x="482.0" y="282.68" width="4" height="0.60" fill="#2f9789" fill-opacity="0.85"/>
<line x1="486.5" x2="486.5" y1="279.93" y2="285.70" stroke="#357f75" stroke-width="1"/>
<rect x="484.0" y="282.21" width="4" height="0.60" fill="#2f9789" fill-opacity="0.85"/>
<line x1="488.5" x2="488.5" y1="257.44" y2="283.48" stroke="#357f75" stroke-width="1"/>
<rect x="487.0" y="263.13" width="4" height="19.09" fill="#2f9789" fill-opacity="0.85"/>
<line x1="490.5" x2="490.5" y1="244.87" y2="267.15" stroke="#357f75" stroke-width="1"/>
<rect x="489.0" y="249.63" width="4" height="13.50" fill="#2f9789" fill-opacity="0.85"/>
<line x1="493.5" x2="493.5" y1="248.34" y2="268.31" stroke="#b0524f" stroke-width="1"/>
<rect x="491.0" y="249.63" width="4" height="15.36" fill="#d5514b" fill-opacity="0.85"/>
<line x1="495.5" x2="495.5" y1="261.27" y2="270.58" stroke="#b0524f" stroke-width="1"/>
<rect x="493.0" y="264.99" width="4" height="0.93" fill="#d5514b" fill-opacity="0.85"/>
<line x1="497.5" x2="497.5" y1="254.29" y2="270.32" stroke="#357f75" stroke-width="1"/>
<rect x="496.0" y="259.40" width="4" height="6.52" fill="#2f9789" fill-opacity="0.85"/>
<line x1="499.5" x2="499.5" y1="257.84" y2="271.46" stroke="#b0524f" stroke-width="1"/>
<rect x="498.0" y="259.40" width="4" height="4.65" fill="#d5514b" fill-opacity="0.85"/>
<line x1="502.5" x2="502.5" y1="257.97" y2="273.16" stroke="#b0524f" stroke-width="1"/>
<rect x="500.0" y="264.06" width="4" height="1.86" fill="#d5514b" fill-opacity="0.85"/>
<line x1="504.5" x2="504.5" y1="264.13" y2="271.05" stroke="#b0524f" stroke-width="1"/>
<rect x="502.0" y="265.92" width="4" height="2.33" fill="#d5514b" fill-opacity="0.85"/>
<line x1="506.5" x2="506.5" y1="259.87" y2="274.32" stroke="#357f75" stroke-width="1"/>
<rect x="505.0" y="261.27" width="4" height="6.98" fill="#2f9789" fill-opacity="0.85"/>
<line x1="508.5" x2="508.5" y1="252.32" y2="263.26" stroke="#357f75" stroke-width="1"/>
<rect x="507.0" y="255.21" width="4" height="6.05" fill="#2f9789" fill-opacity="0.85"/>
<line x1="511.5" x2="511.5" y1="225.54" y2="262.58" stroke="#357f75" stroke-width="1"/>
<rect x="509.0" y="229.61" width="4" height="25.60" fill="#2f9789" fill-opacity="0.85"/>
<line x1="513.5" x2="513.5" y1="216.11" y2="250.09" stroke="#357f75" stroke-width="1"/>
<rect x="511.0" y="217.04" width="4" height="12.57" fill="#2f9789" fill-opacity="0.85"/>
<line x1="515.5" x2="515.5" y1="180.42" y2="220.25" stroke="#357f75" stroke-width="1"/>
<rect x="514.0" y="187.72" width="4" height="29.33" fill="#2f9789" fill-opacity="0.85"/>
<line x1="517.5" x2="517.5" y1="172.82" y2="201.68" stroke="#357f75" stroke-width="1"/>
<rect x="516.0" y="182.60" width="4" height="5.12" fill="#2f9789" fill-opacity="0.85"/>
<line x1="520.5" x2="520.5" y1="177.94" y2="200.29" stroke="#b0524f" stroke-width="1"/>
<rect x="518.0" y="182.60" width="4" height="10.24" fill="#d5514b" fill-opacity="0.85"/>
<line x1="522.5" x2="522.5" y1="180.63" y2="200.93" stroke="#357f75" stroke-width="1"/>
<rect x="520.0" y="183.06" width="4" height="9.78" fill="#2f9789" fill-opacity="0.85"/>
<line x1="524.5" x2="524.5" y1="175.18" y2="189.57" stroke="#357f75" stroke-width="1"/>
<rect x="523.0" y="180.73" width="4" height="2.33" fill="#2f9789" fill-opacity="0.85"/>
<line x1="526.5" x2="526.5" y1="178.73" y2="185.76" stroke="#b0524f" stroke-width="1"/>
<rect x="525.0" y="180.73" width="4" height="3.26" fill="#d5514b" fill-opacity="0.85"/>
<line x1="529.5" x2="529.5" y1="155.48" y2="188.62" stroke="#357f75" stroke-width="1"/>
<rect x="527.0" y="162.11" width="4" height="21.88" fill="#2f9789" fill-opacity="0.85"/>
<line x1="531.5" x2="531.5" y1="153.97" y2="171.89" stroke="#b0524f" stroke-width="1"/>
<rect x="529.0" y="162.11" width="4" height="7.45" fill="#d5514b" fill-opacity="0.85"/>
<line x1="533.5" x2="533.5" y1="161.11" y2="178.09" stroke="#357f75" stroke-width="1"/>
<rect x="532.0" y="163.05" width="4" height="6.52" fill="#2f9789" fill-opacity="0.85"/>
<line x1="535.5" x2="535.5" y1="156.53" y2="198.89" stroke="#b0524f" stroke-width="1"/>
<rect x="534.0" y="163.05" width="4" height="12.57" fill="#d5514b" fill-opacity="0.85"/>
<line x1="538.5" x2="538.5" y1="169.54" y2="188.99" stroke="#b0524f" stroke-width="1"/>
<rect x="536.0" y="175.61" width="4" height="6.05" fill="#d5514b" fill-opacity="0.85"/>
<line x1="540.5" x2="540.5" y1="176.44" y2="189.36" stroke="#357f75" stroke-width="1"/>
<rect x="538.0" y="178.41" width="4" height="3.26" fill="#2f9789" fill-opacity="0.85"/>
<line x1="542.5" x2="542.5" y1="164.89" y2="186.31" stroke="#357f75" stroke-width="1"/>
<rect x="541.0" y="166.77" width="4" height="11.64" fill="#2f9789" fill-opacity="0.85"/>
<line x1="544.5" x2="544.5" y1="161.96" y2="184.21" stroke="#b0524f" stroke-width="1"/>
<rect x="543.0" y="166.77" width="4" height="13.50" fill="#d5514b" fill-opacity="0.85"/>
<line x1="547.5" x2="547.5" y1="173.29" y2="199.82" stroke="#357f75" stroke-width="1"/>
<rect x="545.0" y="176.08" width="4" height="4.19" fill="#2f9789" fill-opacity="0.85"/>
<line x1="549.5" x2="549.5" y1="174.22" y2="223.09" stroke="#b0524f" stroke-width="1"/>
<rect x="547.0" y="176.08" width="4" height="39.10" fill="#d5514b" fill-opacity="0.85"/>
<line x1="551.5" x2="551.5" y1="210.09" y2="223.32" stroke="#b0524f" stroke-width="1"/>
<rect x="550.0" y="215.18" width="4" height="0.60" fill="#d5514b" fill-opacity="0.85"/>
<line x1="553.5" x2="553.5" y1="215.65" y2="248.70" stroke="#b0524f" stroke-width="1"/>
<rect x="552.0" y="215.65" width="4" height="28.86" fill="#d5514b" fill-opacity="0.85"/>
<line x1="556.5" x2="556.5" y1="221.43" y2="246.62" stroke="#357f75" stroke-width="1"/>
<rect x="554.0" y="224.49" width="4" height="20.02" fill="#2f9789" fill-opacity="0.85"/>
<line x1="558.5" x2="558.5" y1="220.77" y2="278.96" stroke="#b0524f" stroke-width="1"/>
<rect x="556.0" y="224.49" width="4" height="34.91" fill="#d5514b" fill-opacity="0.85"/>
<line x1="560.5" x2="560.5" y1="254.91" y2="267.19" stroke="#b0524f" stroke-width="1"/>
<rect x="559.0" y="259.40" width="4" height="5.12" fill="#d5514b" fill-opacity="0.85"/>
<line x1="562.5" x2="562.5" y1="256.62" y2="266.71" stroke="#357f75" stroke-width="1"/>
<rect x="561.0" y="258.47" width="4" height="6.05" fill="#2f9789" fill-opacity="0.85"/>
<line x1="565.5" x2="565.5" y1="257.00" y2="270.69" stroke="#b0524f" stroke-width="1"/>
<rect x="563.0" y="258.47" width="4" height="9.78" fill="#d5514b" fill-opacity="0.85"/>
<line x1="567.5" x2="567.5" y1="248.78" y2="271.38" stroke="#357f75" stroke-width="1"/>
<rect x="565.0" y="251.96" width="4" height="16.29" fill="#2f9789" fill-opacity="0.85"/>
<line x1="569.5" x2="569.5" y1="205.41" y2="268.71" stroke="#357f75" stroke-width="1"/>
<rect x="568.0" y="206.80" width="4" height="45.15" fill="#2f9789" fill-opacity="0.85"/>
<line x1="571.5" x2="571.5" y1="187.44" y2="214.25" stroke="#357f75" stroke-width="1"/>
<rect x="570.0" y="195.63" width="4" height="11.17" fill="#2f9789" fill-opacity="0.85"/>
<line x1="574.5" x2="574.5" y1="188.87" y2="218.10" stroke="#b0524f" stroke-width="1"/>
<rect x="572.0" y="195.63" width="4" height="19.09" fill="#d5514b" fill-opacity="0.85"/>
<line x1="576.5" x2="576.5" y1="209.99" y2="217.21" stroke="#357f75" stroke-width="1"/>
<rect x="574.0" y="214.72" width="4" height="0.60" fill="#2f9789" fill-opacity="0.85"/>
<line x1="578.5" x2="578.5" y1="211.05" y2="222.62" stroke="#b0524f" stroke-width="1"/>
<rect x="577.0" y="214.72" width="4" height="6.52" fill="#d5514b" fill-opacity="0.85"/>
<line x1="580.5" x2="580.5" y1="219.37" y2="236.59" stroke="#357f75" stroke-width="1"/>
<rect x="579.0" y="220.77" width="4" height="0.60" fill="#2f9789" fill-opacity="0.85"/>
<line x1="583.5" x2="583.5" y1="217.81" y2="225.38" stroke="#b0524f" stroke-width="1"/>
<rect x="581.0" y="220.77" width="4" height="3.26" fill="#d5514b" fill-opacity="0.85"/>
<line x1="585.5" x2="585.5" y1="210.26" y2="229.09" stroke="#357f75" stroke-width="1"/>
<rect x="583.0" y="216.58" width="4" height="7.45" fill="#2f9789" fill-opacity="0.85"/>
<line x1="587.5" x2="587.5" y1="214.01" y2="230.89" stroke="#b0524f" stroke-width="1"/>
<rect x="586.0" y="216.58" width="4" height="9.78" fill="#d5514b" fill-opacity="0.85"/>
<line x1="589.5" x2="589.5" y1="218.79" y2="229.70" stroke="#b0524f" stroke-width="1"/>
<rect x="588.0" y="226.35" width="4" height="1.40" fill="#d5514b" fill-opacity="0.85"/>
<line x1="592.5" x2="592.5" y1="212.39" y2="240.32" stroke="#357f75" stroke-width="1"/>
<rect x="590.0" y="216.11" width="4" height="11.64" fill="#2f9789" fill-opacity="0.85"/>
<line x1="594.5" x2="594.5" y1="204.01" y2="220.40" stroke="#357f75" stroke-width="1"/>
<rect x="592.0" y="210.99" width="4" height="5.12" fill="#2f9789" fill-opacity="0.85"/>
<line x1="596.5" x2="596.5" y1="205.87" y2="224.03" stroke="#b0524f" stroke-width="1"/>
<rect x="595.0" y="210.99" width="4" height="5.12" fill="#d5514b" fill-opacity="0.85"/>
<line x1="598.5" x2="598.5" y1="210.49" y2="223.15" stroke="#357f75" stroke-width="1"/>
<rect x="597.0" y="215.18" width="4" height="0.93" fill="#2f9789" fill-opacity="0.85"/>
<line x1="601.5" x2="601.5" y1="211.20" y2="236.24" stroke="#b0524f" stroke-width="1"/>
<rect x="599.0" y="215.18" width="4" height="16.29" fill="#d5514b" fill-opacity="0.85"/>
<line x1="603.5" x2="603.5" y1="225.64" y2="250.92" stroke="#b0524f" stroke-width="1"/>
<rect x="601.0" y="231.47" width="4" height="11.64" fill="#d5514b" fill-opacity="0.85"/>
<line x1="605.5" x2="605.5" y1="240.32" y2="252.89" stroke="#b0524f" stroke-width="1"/>
<rect x="604.0" y="243.11" width="4" height="1.86" fill="#d5514b" fill-opacity="0.85"/>
<line x1="607.5" x2="607.5" y1="227.49" y2="251.78" stroke="#357f75" stroke-width="1"/>
<rect x="606.0" y="231.01" width="4" height="13.97" fill="#2f9789" fill-opacity="0.85"/>
<line x1="610.5" x2="610.5" y1="225.04" y2="238.83" stroke="#b0524f" stroke-width="1"/>
<rect x="608.0" y="231.01" width="4" height="2.33" fill="#d5514b" fill-opacity="0.85"/>
<line x1="612.5" x2="612.5" y1="220.50" y2="236.94" stroke="#357f75" stroke-width="1"/>
<rect x="610.0" y="224.49" width="4" height="8.84" fill="#2f9789" fill-opacity="0.85"/>
<line x1="614.5" x2="614.5" y1="217.28" y2="226.63" stroke="#357f75" stroke-width="1"/>
<rect x="613.0" y="218.91" width="4" height="5.59" fill="#2f9789" fill-opacity="0.85"/>
<line x1="616.5" x2="616.5" y1="217.17" y2="229.44" stroke="#b0524f" stroke-width="1"/>
<rect x="615.0" y="218.91" width="4" height="4.19" fill="#d5514b" fill-opacity="0.85"/>
<line x1="619.5" x2="619.5" y1="207.47" y2="225.51" stroke="#357f75" stroke-width="1"/>
<rect x="617.0" y="210.53" width="4" height="12.57" fill="#2f9789" fill-opacity="0.85"/>
<line x1="621.5" x2="621.5" y1="206.57" y2="221.23" stroke="#b0524f" stroke-width="1"/>
<rect x="619.0" y="210.53" width="4" height="3.72" fill="#d5514b" fill-opacity="0.85"/>
<line x1="623.5" x2="623.5" y1="209.60" y2="221.39" stroke="#357f75" stroke-width="1"/>
<rect x="622.0" y="211.46" width="4" height="2.79" fill="#2f9789" fill-opacity="0.85"/>
<line x1="625.5" x2="625.5" y1="204.12" y2="235.09" stroke="#b0524f" stroke-width="1"/>
<rect x="624.0" y="211.46" width="4" height="17.69" fill="#d5514b" fill-opacity="0.85"/>
<line x1="628.5" x2="628.5" y1="227.75" y2="251.49" stroke="#b0524f" stroke-width="1"/>
<rect x="626.0" y="229.15" width="4" height="3.72" fill="#d5514b" fill-opacity="0.85"/>
<line x1="630.5" x2="630.5" y1="218.06" y2="235.77" stroke="#357f75" stroke-width="1"/>
<rect x="628.0" y="221.23" width="4" height="11.64" fill="#2f9789" fill-opacity="0.85"/>
<line x1="632.5" x2="632.5" y1="217.98" y2="228.42" stroke="#b0524f" stroke-width="1"/>
<rect x="631.0" y="221.23" width="4" height="2.79" fill="#d5514b" fill-opacity="0.85"/>
<line x1="634.5" x2="634.5" y1="216.58" y2="224.03" stroke="#357f75" stroke-width="1"/>
<rect x="633.0" y="221.23" width="4" height="2.79" fill="#2f9789" fill-opacity="0.85"/>
<line x1="637.5" x2="637.5" y1="218.91" y2="239.96" stroke="#b0524f" stroke-width="1"/>
<rect x="635.0" y="221.23" width="4" height="14.43" fill="#d5514b" fill-opacity="0.85"/>
<line x1="639.5" x2="639.5" y1="232.70" y2="245.14" stroke="#b0524f" stroke-width="1"/>
<rect x="637.0" y="235.66" width="4" height="1.86" fill="#d5514b" fill-opacity="0.85"/>
<line x1="641.5" x2="641.5" y1="225.62" y2="242.40" stroke="#357f75" stroke-width="1"/>
<rect x="640.0" y="233.34" width="4" height="4.19" fill="#2f9789" fill-opacity="0.85"/>
<line x1="643.5" x2="643.5" y1="231.01" y2="253.35" stroke="#b0524f" stroke-width="1"/>
<rect x="642.0" y="233.34" width="4" height="11.64" fill="#d5514b" fill-opacity="0.85"/>
<line x1="646.5" x2="646.5" y1="233.76" y2="252.60" stroke="#357f75" stroke-width="1"/>
<rect x="644.0" y="236.59" width="4" height="8.38" fill="#2f9789" fill-opacity="0.85"/>
<line x1="648.5" x2="648.5" y1="233.33" y2="240.64" stroke="#b0524f" stroke-width="1"/>
<rect x="646.0" y="236.59" width="4" height="0.60" fill="#d5514b" fill-opacity="0.85"/>
<line x1="650.5" x2="650.5" y1="228.85" y2="240.85" stroke="#357f75" stroke-width="1"/>
<rect x="649.0" y="230.08" width="4" height="6.98" fill="#2f9789" fill-opacity="0.85"/>
<line x1="652.5" x2="652.5" y1="225.66" y2="238.87" stroke="#b0524f" stroke-width="1"/>
<rect x="651.0" y="230.08" width="4" height="4.19" fill="#d5514b" fill-opacity="0.85"/>
<line x1="655.5" x2="655.5" y1="231.71" y2="239.78" stroke="#b0524f" stroke-width="1"/>
<rect x="653.0" y="234.27" width="4" height="0.93" fill="#d5514b" fill-opacity="0.85"/>
<line x1="657.5" x2="657.5" y1="217.51" y2="239.39" stroke="#b0524f" stroke-width="1"/>
<rect x="655.0" y="235.20" width="4" height="1.40" fill="#d5514b" fill-opacity="0.85"/>
<line x1="659.5" x2="659.5" y1="219.84" y2="268.71" stroke="#b0524f" stroke-width="1"/>
<rect x="658.0" y="236.59" width="4" height="2.79" fill="#d5514b" fill-opacity="0.85"/>
<line x1="661.5" x2="661.5" y1="238.15" y2="243.73" stroke="#b0524f" stroke-width="1"/>
<rect x="660.0" y="239.39" width="4" height="1.40" fill="#d5514b" fill-opacity="0.85"/>
<line x1="664.5" x2="664.5" y1="236.19" y2="244.63" stroke="#357f75" stroke-width="1"/>
<rect x="662.0" y="237.99" width="4" height="2.79" fill="#2f9789" fill-opacity="0.85"/>
<line x1="666.5" x2="666.5" y1="236.04" y2="239.35" stroke="#357f75" stroke-width="1"/>
<rect x="664.0" y="237.53" width="4" height="0.60" fill="#2f9789" fill-opacity="0.85"/>
<line x1="668.5" x2="668.5" y1="234.30" y2="249.58" stroke="#b0524f" stroke-width="1"/>
<rect x="667.0" y="237.53" width="4" height="9.31" fill="#d5514b" fill-opacity="0.85"/>
<line x1="670.5" x2="670.5" y1="241.84" y2="251.46" stroke="#357f75" stroke-width="1"/>
<rect x="669.0" y="246.84" width="4" height="0.60" fill="#2f9789" fill-opacity="0.85"/>
<line x1="673.5" x2="673.5" y1="240.77" y2="254.16" stroke="#b0524f" stroke-width="1"/>
<rect x="671.0" y="246.84" width="4" height="1.86" fill="#d5514b" fill-opacity="0.85"/>
<line x1="687.5" x2="687.5" y1="40" y2="415" stroke="#111" stroke-width="1.2"/>
<line x1="0" x2="697" y1="414.5" y2="414.5" stroke="#111" stroke-width="1.2"/>
<line x1="687.5" x2="697" y1="40.5" y2="40.5" stroke="#111" stroke-width="1.1"/>
<line x1="687.5" x2="697" y1="88.5" y2="88.5" stroke="#111" stroke-width="1.1"/>
<line x1="687.5" x2="697" y1="134.5" y2="134.5" stroke="#111" stroke-width="1.1"/>
<line x1="687.5" x2="697" y1="181.5" y2="181.5" stroke="#111" stroke-width="1.1"/>
<line x1="687.5" x2="697" y1="228.5" y2="228.5" stroke="#111" stroke-width="1.1"/>
<line x1="687.5" x2="697" y1="274.5" y2="274.5" stroke="#111" stroke-width="1.1"/>
<line x1="687.5" x2="697" y1="321.5" y2="321.5" stroke="#111" stroke-width="1.1"/>
<line x1="687.5" x2="697" y1="367.5" y2="367.5" stroke="#111" stroke-width="1.1"/>
</svg>
<div class="ttl">US Dollar Japanese Yen</div>
<div class="hl">High:147.63 Low:75.55</div>
<div class="cap">20-Yr Historical prices of USD/JPY pair</div>
<div class="yl" style="top:81.9px">140</div>
<div class="yl" style="top:127.9px">130</div>
<div class="yl" style="top:174.9px">120</div>
<div class="yl" style="top:221.9px">110</div>
<div class="yl" style="top:267.9px">100</div>
<div class="yl" style="top:314.9px">90.000</div>
<div class="yl" style="top:360.9px">80.000</div>
<div class="xl" style="left:86.0px">2000</div>
<div class="xl" style="left:221.0px">2005</div>
<div class="xl" style="left:356.0px">2010</div>
<div class="xl" style="left:491.0px">2015</div>
<div class="xl" style="left:626.0px">2020</div>

</body></html>
